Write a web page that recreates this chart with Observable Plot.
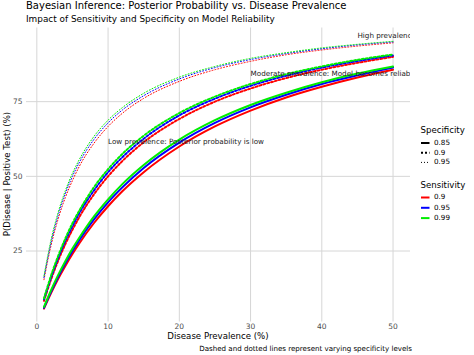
<!DOCTYPE html>
<html>
<head>
<meta charset="utf-8">
<script src="https://cdn.jsdelivr.net/npm/d3@7"></script>
<script src="https://cdn.jsdelivr.net/npm/@observablehq/plot@0.6"></script>
<style>
  body { margin: 0; background: #fff; font-family: "DejaVu Sans", sans-serif; }
  #wrap { position: relative; width: 474px; height: 355px; overflow: hidden; }
  .t { position: absolute; white-space: nowrap; color: #000; line-height: 1; }
  #chart svg { position: absolute; left: 0; top: 0; }
</style>
</head>
<body>
<div id="wrap">
  <div id="chart"></div>
</div>
<script>
// Disease prevalence (%)
const prevalence = [1, 2, 3, 4, 5, 6, 8, 10, 12, 15, 20, 25, 30, 35, 40, 45, 50];
const sensitivities = ["0.9", "0.95", "0.99"];
const specificities = ["0.85", "0.9", "0.95"];
const sensColors = ["#ff0000", "#0000ff", "#00ee00"];

// P(Disease | Positive Test) (%) — specificity 0.85
const spec085_sens090 = [5.7, 10.9, 15.7, 20.0, 24.0, 27.7, 34.3, 40.0, 45.0, 51.4, 60.0, 66.7, 72.0, 76.4, 80.0, 83.1, 85.7];
const spec085_sens095 = [6.0, 11.4, 16.4, 20.9, 25.0, 28.8, 35.5, 41.3, 46.3, 52.8, 61.3, 67.9, 73.1, 77.3, 80.9, 83.8, 86.4];
const spec085_sens099 = [6.3, 11.9, 17.0, 21.6, 25.8, 29.6, 36.5, 42.3, 47.4, 53.8, 62.3, 68.8, 73.9, 78.0, 81.5, 84.4, 86.8];
// specificity 0.9
const spec090_sens090 = [8.3, 15.5, 21.8, 27.3, 32.1, 36.5, 43.9, 50.0, 55.1, 61.4, 69.2, 75.0, 79.4, 82.9, 85.7, 88.0, 90.0];
const spec090_sens095 = [8.8, 16.2, 22.7, 28.4, 33.3, 37.8, 45.2, 51.4, 56.4, 62.6, 70.4, 76.0, 80.3, 83.7, 86.4, 88.6, 90.5];
const spec090_sens099 = [9.1, 16.8, 23.4, 29.2, 34.3, 38.7, 46.3, 52.4, 57.5, 63.6, 71.2, 76.7, 80.9, 84.2, 86.8, 89.0, 90.8];
// specificity 0.95
const spec095_sens090 = [15.4, 26.9, 35.8, 42.9, 48.6, 53.5, 61.0, 66.7, 71.1, 76.1, 81.8, 85.7, 88.5, 90.7, 92.3, 93.6, 94.7];
const spec095_sens095 = [16.1, 27.9, 37.0, 44.2, 50.0, 54.8, 62.3, 67.9, 72.2, 77.0, 82.6, 86.4, 89.1, 91.1, 92.7, 94.0, 95.0];
const spec095_sens099 = [16.7, 28.8, 38.0, 45.2, 51.0, 55.8, 63.3, 68.8, 73.0, 77.8, 83.2, 86.8, 89.5, 91.4, 93.0, 94.2, 95.2];

const seriesTable = {
  "0.85": [spec085_sens090, spec085_sens095, spec085_sens099],
  "0.9":  [spec090_sens090, spec090_sens095, spec090_sens099],
  "0.95": [spec095_sens090, spec095_sens095, spec095_sens099]
};

const annotations = [
  {x: 10, y: 61.5, label: "Low prevalence: Posterior probability is low"},
  {x: 30, y: 84.5, label: "Moderate prevalence: Model becomes reliable"},
  {x: 45, y: 97, label: "High prevalence: Model is very reliable"}
];

function rows(spec) {
  const out = [];
  seriesTable[spec].forEach((vals, i) => {
    vals.forEach((v, j) => out.push({p: prevalence[j], post: v, sens: sensitivities[i], spec}));
  });
  return out;
}

const styles = {
  "0.85": {strokeWidth: 2, dash: null},
  "0.9":  {strokeWidth: 2, dash: "2,2"},
  "0.95": {strokeWidth: 1, dash: "1,2"}
};

const lineMarks = specificities.map(spec => Plot.line(rows(spec), {
  x: "p", y: "post", z: "sens", stroke: "sens",
  strokeWidth: styles[spec].strokeWidth,
  strokeDasharray: styles[spec].dash,
  curve: "monotone-x"
}));

const chart = Plot.plot({
  width: 474,
  height: 355,
  marginLeft: 26,
  marginRight: 64,
  marginTop: 27.5,
  marginBottom: 33.5,
  style: {fontFamily: "DejaVu Sans, sans-serif", background: "transparent"},
  x: {domain: [-1.45, 52.45], ticks: [0, 10, 20, 30, 40, 50], label: null, tickSize: 0},
  y: {domain: [1.24, 99.66], ticks: [25, 50, 75], label: null, tickSize: 0},
  color: {domain: sensitivities, range: sensColors},
  marks: [
    Plot.gridX([0, 10, 20, 30, 40, 50], {stroke: "#d6d6d6", strokeOpacity: 1, strokeWidth: 1}),
    Plot.gridY([25, 50, 75], {stroke: "#d6d6d6", strokeOpacity: 1, strokeWidth: 1}),
    Plot.axisX({ticks: [0, 10, 20, 30, 40, 50], tickSize: 0, tickPadding: 1.5, fill: "#4d4d4d", fontSize: 7.5, label: null}),
    Plot.axisY({ticks: [25, 50, 75], tickSize: 0, tickPadding: 4, fill: "#4d4d4d", fontSize: 7.5, label: null}),
    ...lineMarks,
    Plot.text(annotations, {x: "x", y: "y", text: "label", textAnchor: "start", fontSize: 7.2, fill: "#222", clip: true})
  ]
});
document.getElementById("chart").appendChild(chart);

// Titles, axis labels, caption, legends
const wrap = document.getElementById("wrap");
function addText(txt, css) {
  const d = document.createElement("div");
  d.className = "t";
  d.textContent = txt;
  Object.assign(d.style, css);
  wrap.appendChild(d);
  return d;
}
addText("Bayesian Inference: Posterior Probability vs. Disease Prevalence", {left: "26px", top: "1px", fontSize: "10px"});
addText("Impact of Sensitivity and Specificity on Model Reliability", {left: "26px", top: "14.5px", fontSize: "8.9px"});
addText("Disease Prevalence (%)", {left: "218px", top: "332px", fontSize: "8.6px", transform: "translateX(-50%)"});
addText("Dashed and dotted lines represent varying specificity levels", {right: "62px", top: "344.5px", fontSize: "7.1px"});
const yt = addText("P(Disease | Positive Test) (%)", {left: "7px", top: "174px", fontSize: "8.6px"});
yt.style.transform = "translate(-50%, -50%) rotate(-90deg)";

// Legend (SVG)
const ns = "http://www.w3.org/2000/svg";
const lg = document.createElementNS(ns, "svg");
lg.setAttribute("width", 474); lg.setAttribute("height", 355);
lg.style.position = "absolute"; lg.style.left = "0"; lg.style.top = "0";
lg.style.fontFamily = "DejaVu Sans, sans-serif";
wrap.appendChild(lg);
function svgText(x, y, s, size) {
  const t = document.createElementNS(ns, "text");
  t.setAttribute("x", x); t.setAttribute("y", y);
  t.setAttribute("font-size", size); t.setAttribute("dominant-baseline", "middle");
  t.textContent = s; lg.appendChild(t);
}
function svgLine(y, color, width, dash) {
  const l = document.createElementNS(ns, "line");
  l.setAttribute("x1", 421); l.setAttribute("x2", 429.5);
  l.setAttribute("y1", y); l.setAttribute("y2", y);
  l.setAttribute("stroke", color); l.setAttribute("stroke-width", width);
  if (dash) l.setAttribute("stroke-dasharray", dash);
  lg.appendChild(l);
}
svgText(420.5, 130, "Specificity", 8.6);
specificities.forEach((s, i) => {
  const y = 143 + i * 9.7;
  svgLine(y, "#000", styles[s].strokeWidth, styles[s].dash);
  svgText(434, y, s, 7.2);
});
svgText(420.5, 185, "Sensitivity", 8.6);
sensitivities.forEach((s, i) => {
  const y = 197.5 + i * 10.3;
  svgLine(y, sensColors[i], 2, null);
  svgText(434, y, s, 7.2);
});
</script>
</body>
</html>
